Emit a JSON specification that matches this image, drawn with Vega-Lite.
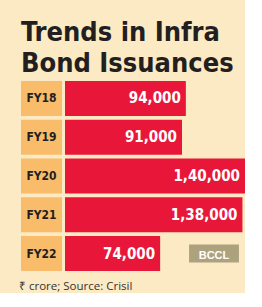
{
  "$schema": "https://vega.github.io/schema/vega-lite/v6.json",
  "background": "#FCEAC4",
  "padding": {"left": 19, "top": 19, "right": 0, "bottom": 0},
  "title": {
    "text": ["Trends in Infra", "Bond Issuances"],
    "anchor": "start",
    "frame": "group",
    "font": "DejaVu Sans Condensed",
    "fontSize": 27,
    "fontWeight": "bold",
    "color": "#231F20",
    "lineHeight": 31,
    "offset": 3,
    "dx": 0
  },
  "bounds": "flush",
  "spacing": 3,
  "data": {
    "values": [
      {"year": "FY18", "value": 94000, "label": "94,000"},
      {"year": "FY19", "value": 91000, "label": "91,000"},
      {"year": "FY20", "value": 140000, "label": "1,40,000"},
      {"year": "FY21", "value": 138000, "label": "1,38,000"},
      {"year": "FY22", "value": 74000, "label": "74,000"}
    ]
  },
  "hconcat": [
    {
      "width": 41,
      "height": 190,
      "title": {
        "text": "₹ crore;  Source: Crisil",
        "orient": "bottom",
        "anchor": "start",
        "frame": "bounds",
        "font": "Open Sans",
        "fontSize": 11.5,
        "fontWeight": "normal",
        "color": "#333333",
        "offset": 10,
        "dx": -2
      },
      "encoding": {
        "y": {"field": "year", "type": "nominal", "axis": null, "scale": {"paddingInner": 0.1, "paddingOuter": 0}}
      },
      "layer": [
        {"mark": {"type": "bar", "color": "#F8BC6A"}},
        {
          "mark": {"type": "text", "font": "DejaVu Sans Condensed", "fontWeight": "bold", "fontSize": 12, "color": "#231F20"},
          "encoding": {"text": {"field": "year"}}
        }
      ]
    },
    {
      "width": 180,
      "height": 190,
      "encoding": {
        "y": {"field": "year", "type": "nominal", "axis": null, "scale": {"paddingInner": 0.1, "paddingOuter": 0}}
      },
      "layer": [
        {
          "mark": {"type": "bar", "color": "#E8173A"},
          "encoding": {"x": {"field": "value", "type": "quantitative", "axis": null, "scale": {"domain": [0, 140000], "nice": false}}}
        },
        {
          "mark": {"type": "text", "align": "right", "dx": -5, "font": "DejaVu Sans Condensed", "fontWeight": "bold", "fontSize": 15, "color": "white"},
          "encoding": {
            "x": {"field": "value", "type": "quantitative"},
            "text": {"field": "label"}
          }
        },
        {
          "data": {"values": [{"badge": "BCCL"}]},
          "mark": {"type": "bar", "color": "#ADA27E", "height": {"band": 0.52}},
          "encoding": {
            "y": {"datum": "FY22"},
            "x": {"datum": 96500},
            "x2": {"datum": 135300}
          }
        },
        {
          "data": {"values": [{"badge": "BCCL"}]},
          "mark": {"type": "text", "font": "Liberation Sans", "fontWeight": "bold", "fontSize": 11, "color": "white", "dy": 2},
          "encoding": {
            "y": {"datum": "FY22"},
            "x": {"datum": 115900},
            "text": {"field": "badge"}
          }
        }
      ]
    }
  ],
  "config": {"view": {"stroke": null}}
}
